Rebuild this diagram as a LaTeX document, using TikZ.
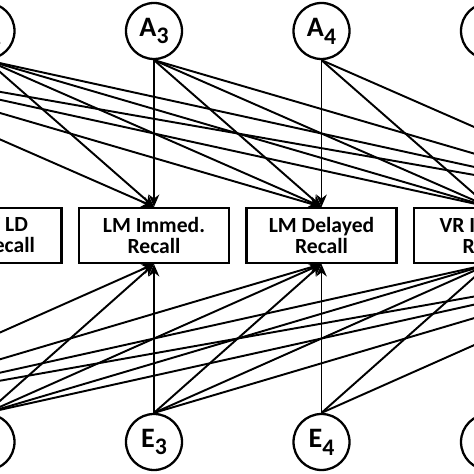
\documentclass[tikz,border=0pt]{standalone}
\usepackage{fontspec}
\setmainfont{Carlito}
\usetikzlibrary{arrows.meta}

\tikzset{
  latent/.style={draw,circle,line width=1.3pt,minimum size=1.12cm,inner sep=0pt,font=\bfseries},
  measure/.style={draw,rectangle,line width=1.3pt,minimum width=3cm,minimum height=1.1cm,align=center,font=\bfseries\fontsize{12.3}{12}\selectfont},
  loading/.style={draw,line width=1.1pt,-{Stealth[length=7pt,width=6pt]}}
}
\newcommand{\latname}[2]{{\fontsize{16}{16}\selectfont #1}\raisebox{-4.5pt}{\fontsize{13.5}{13.5}\selectfont #2}}

\begin{document}
\begin{tikzpicture}

\useasboundingbox (0,0) rectangle (9.48,-9.48);
\clip (0,0) rectangle (9.48,-9.48);

% additive genetic factors
\node[latent] (a1) at (-3.62,-0.62) {\latname{A}{1}};
\node[latent] (a2) at (-0.27,-0.62) {\latname{A}{2}};
\node[latent] (a3) at (3.08,-0.62) {\latname{A}{3}};
\node[latent] (a4) at (6.43,-0.62) {\latname{A}{4}};
\node[latent] (a5) at (9.78,-0.62) {\latname{A}{5}};
\node[latent] (a6) at (13.13,-0.62) {\latname{A}{6}};

% memory measures
\node[measure] (v1) at (-3.62,-4.71) {CVLT SD\\Free Recall};
\node[measure] (v2) at (-0.27,-4.71) {RAVLT LD\\Free Recall};
\node[measure] (v3) at (3.08,-4.71) {LM Immed.\\Recall};
\node[measure] (v4) at (6.43,-4.71) {LM Delayed\\Recall};
\node[measure] (v5) at (9.78,-4.71) {VR Immed.\\Recall};
\node[measure] (v6) at (13.13,-4.71) {VR Delayed\\Recall};

% unique environmental factors
\node[latent] (e1) at (-3.62,-8.84) {\latname{E}{1}};
\node[latent] (e2) at (-0.27,-8.84) {\latname{E}{2}};
\node[latent] (e3) at (3.08,-8.84) {\latname{E}{3}};
\node[latent] (e4) at (6.43,-8.84) {\latname{E}{4}};
\node[latent] (e5) at (9.78,-8.84) {\latname{E}{5}};
\node[latent] (e6) at (13.13,-8.84) {\latname{E}{6}};

\path (a1.south) edge[loading] (v1.north) edge[loading] (v2.north) edge[loading] (v3.north) edge[loading] (v4.north) edge[loading] (v5.north) edge[loading] (v6.north);
\path (a2.south) edge[loading] (v2.north) edge[loading] (v3.north) edge[loading] (v4.north) edge[loading] (v5.north) edge[loading] (v6.north);
\path (a3.south) edge[loading] (v3.north) edge[loading] (v4.north) edge[loading] (v5.north) edge[loading] (v6.north);
\path (a4.south) edge[loading] (v4.north) edge[loading] (v5.north) edge[loading] (v6.north);
\path (a5.south) edge[loading] (v5.north) edge[loading] (v6.north);
\path (a6.south) edge[loading] (v6.north);

\path (e1.north) edge[loading] (v1.south) edge[loading] (v2.south) edge[loading] (v3.south) edge[loading] (v4.south) edge[loading] (v5.south) edge[loading] (v6.south);
\path (e2.north) edge[loading] (v2.south) edge[loading] (v3.south) edge[loading] (v4.south) edge[loading] (v5.south) edge[loading] (v6.south);
\path (e3.north) edge[loading] (v3.south) edge[loading] (v4.south) edge[loading] (v5.south) edge[loading] (v6.south);
\path (e4.north) edge[loading] (v4.south) edge[loading] (v5.south) edge[loading] (v6.south);
\path (e5.north) edge[loading] (v5.south) edge[loading] (v6.south);
\path (e6.north) edge[loading] (v6.south);

\end{tikzpicture}
\end{document}
